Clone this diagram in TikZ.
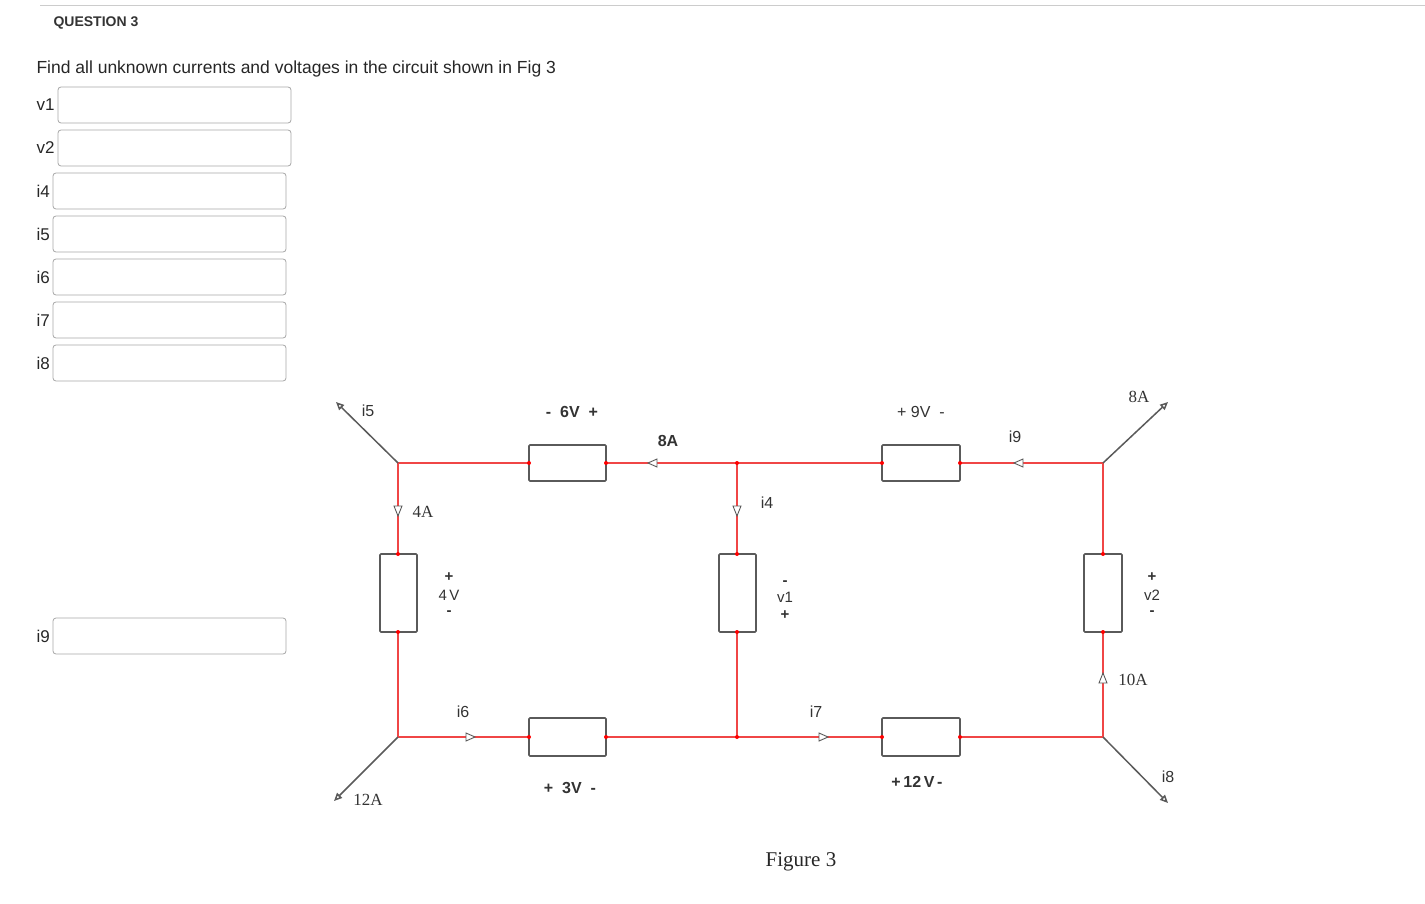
\documentclass[tikz,border=0pt]{standalone}
\usepackage{fontspec}
\setmainfont{Liberation Sans}
\newfontfamily\serifff{Liberation Serif}
\usetikzlibrary{arrows.meta}
\definecolor{wire}{RGB}{240,70,70}
\definecolor{dk}{RGB}{90,90,90}
\begin{document}
\begin{tikzpicture}[x=1pt,y=-1pt,
  wr/.style={draw=wire,line width=1.3pt},
  res/.style={draw=dk,line width=1.6pt,rounded corners=1pt},
  box/.style={draw=gray!70,rounded corners=3pt,line width=0.8pt},
  lab/.style={font=\fontsize{16}{18}\selectfont,text=black!80},
  blab/.style={font=\fontsize{16}{18}\selectfont\bfseries,text=black!80},
  slab/.style={font=\serifff\fontsize{17}{19}\selectfont,text=black!80},
  tri/.style={draw=dk,fill=white,line width=0.9pt},
  dgl/.style={draw=dk,line width=1.5pt,-{Triangle[open,length=8pt,width=7pt]}},
  dot/.style={circle,fill=red,inner sep=1.5pt}]
\useasboundingbox (0,0) rectangle (1425,904);
\draw[gray!40] (40,5) -- (1425,5);
\node[anchor=west,font=\fontsize{14}{16}\selectfont\bfseries,text=black!80] (q) at (50,23) {QUESTION 3};
\node[anchor=west,font=\fontsize{17.5}{20}\selectfont,text=black!85] (t) at (33,69) {Find all unknown currents and voltages in the circuit shown in Fig 3};
\foreach \n/\y/\x in {v1/105/58,v2/148/58,i4/191/53,i5/234/53,i6/277/53,i7/320/53,i8/363/53,i9/636/53}{
  \node[anchor=west,font=\fontsize{17}{19}\selectfont,text=black!85] (l\n) at (33,\y) {\n};
  \draw[box] (\x,\y-18) rectangle (\x+233,\y+18);
}
% wires
\coordinate (TL) at (398,463); \coordinate (TM) at (737,463); \coordinate (TR) at (1103,463);
\coordinate (BL) at (398,737); \coordinate (BM) at (737,737); \coordinate (BR) at (1103,737);
\draw[wr] (TL) -- (TR) -- (BR) -- (BL) -- cycle;
\draw[wr] (TM) -- (BM);
% resistors
\foreach \a/\b/\c/\d in {529/445/606/481, 882/445/960/481, 529/718/606/756, 882/718/960/756, 380/554/417/632, 719/554/756/632, 1084/554/1122/632}{
  \draw[res,fill=white] (\a,\b) rectangle (\c,\d);
}
\foreach \p in {(529,463),(606,463),(882,463),(960,463),(529,737),(606,737),(882,737),(960,737),(398,554),(398,632),(737,554),(737,632),(1103,554),(1103,632),(737,463),(737,737)}
  \fill[red] \p circle (2pt);
% diagonals
\coordinate (d1) at (336,402); \coordinate (d2) at (1168,402);
\coordinate (d3) at (334,801); \coordinate (d4) at (1168,803);
\draw[dgl] (TL) -- (d1);
\draw[dgl] (TR) -- (d2);
\draw[dgl] (BL) -- (d3);
\draw[dgl] (BR) -- (d4);
% small arrows
\draw[tri] (648,463) -- (657,459) -- (657,467) -- cycle;
\draw[tri] (1014,463) -- (1023,459) -- (1023,467) -- cycle;
\draw[tri] (398,516) -- (394,506) -- (402,506) -- cycle;
\draw[tri] (737,516) -- (733,506) -- (741,506) -- cycle;
\draw[tri] (1103,673) -- (1099,683) -- (1107,683) -- cycle;
\draw[tri] (475,737) -- (466,733) -- (466,741) -- cycle;
\draw[tri] (828,737) -- (819,733) -- (819,741) -- cycle;
% labels
\node[lab] (i5) at (368,411) {i5};
\node[blab] (v6) at (572,412) {-\ \ 6V\ \ +};
\node[blab] (a8) at (668,441) {8A};
\node[lab] (v9) at (921,412) {+\ 9V\ \ -};
\node[lab] (i9) at (1015,437) {i9};
\node[slab] (a8r) at (1139,397) {8A};
\node[slab] (a4) at (423,512) {4A};
\node[lab] (i4) at (767,503) {i4};
\node[font=\fontsize{15}{17}\selectfont,text=black!80,align=center] (v4) at (449,594) {\textbf{+}\\[2pt]4\,V\\[-2pt]\textbf{-}};
\node[font=\fontsize{15}{17}\selectfont,text=black!80,align=center] (v1) at (785,600) {\textbf{-}\\[0pt]v1\\[0pt]\textbf{+}};
\node[font=\fontsize{15}{17}\selectfont,text=black!80,align=center] (v2) at (1152,594) {\textbf{+}\\[2pt]v2\\[-2pt]\textbf{-}};
\node[slab] (a10) at (1133,680) {10A};
\node[lab] (i6) at (463,712) {i6};
\node[lab] (i7) at (816,712) {i7};
\node[blab] (v3) at (570,788) {+\ \ 3V\ \ -};
\node[blab] (v12) at (917,782) {+\,12\,V\,-};
\node[lab] (i8) at (1168,777) {i8};
\node[slab] (a12) at (368,800) {12A};
\node[font=\serifff\fontsize{21}{24}\selectfont,text=black!85] (fig) at (801,862) {Figure 3};
\end{tikzpicture}
\end{document}
